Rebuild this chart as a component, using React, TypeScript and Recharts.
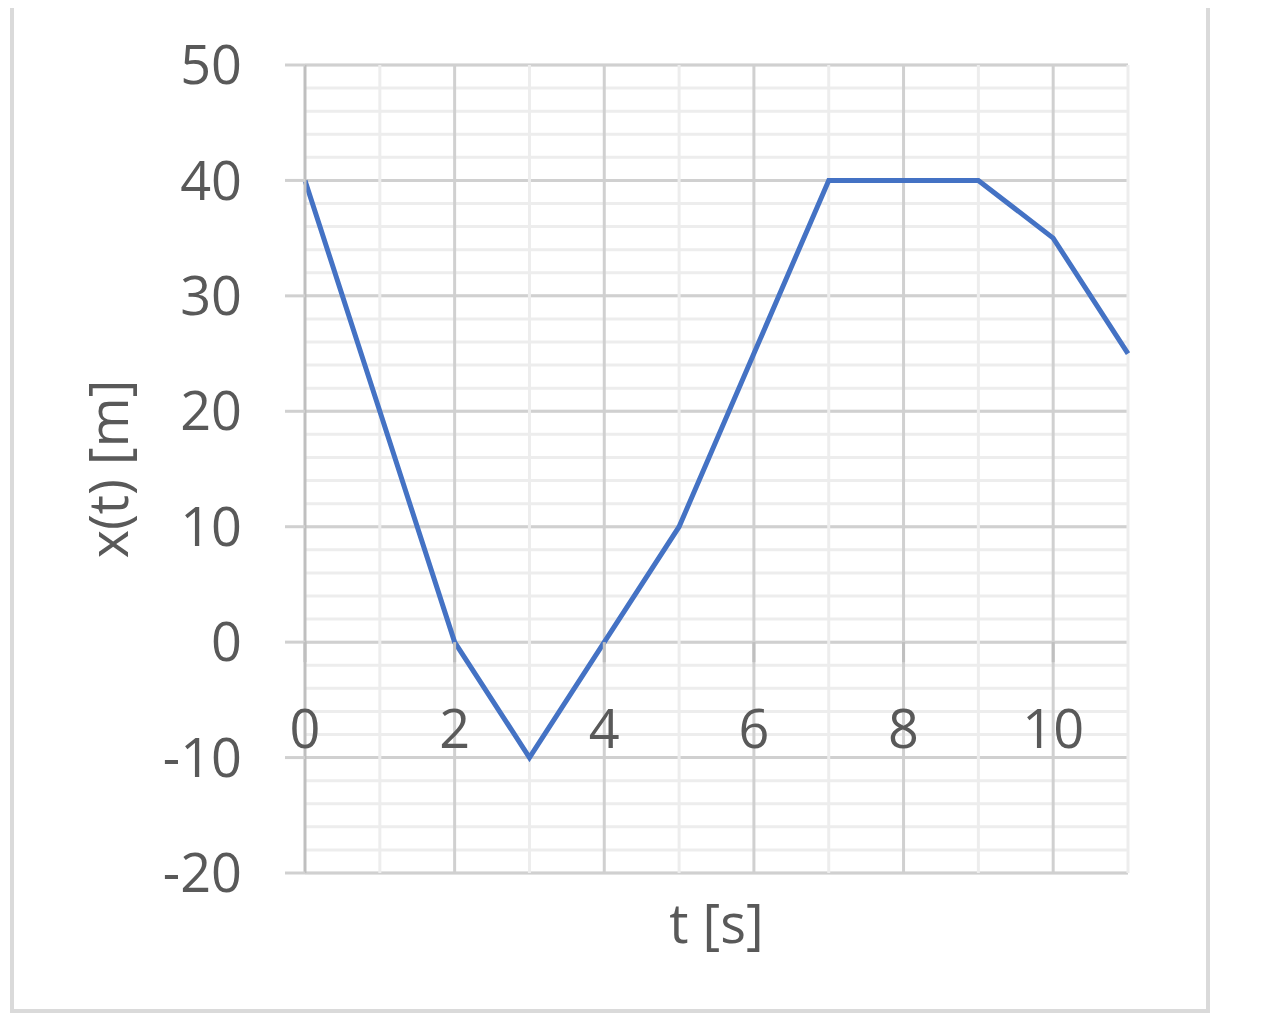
import React from 'react';
import {
  LineChart,
  Line,
  XAxis,
  YAxis,
  CartesianGrid,
  ReferenceDot,
  ReferenceLine,
} from 'recharts';

// time [s] and position [m]
const tValues = [0, 1, 2, 3, 4, 5, 6, 7, 8, 9, 10, 11];
const xValues = [40, 20, 0, -10, 0, 10, 25, 40, 40, 40, 35, 25];

// axis ticks
const yTicks = [-20, -10, 0, 10, 20, 30, 40, 50];
const tTicks = [0, 2, 4, 6, 8, 10];

// gridlines
const tMinorGrid = [1, 3, 5, 7, 9, 11];
const tMajorGrid = [2, 4, 6, 8, 10];
const yMinorGrid = [
  -20, -18, -16, -14, -12, -10, -8, -6, -4, -2, 0, 2, 4, 6, 8, 10, 12, 14, 16,
  18, 20, 22, 24, 26, 28, 30, 32, 34, 36, 38, 40, 42, 44, 46, 48, 50,
];

const FONT = '"Open Sans", "Liberation Sans", sans-serif';
const TEXT = '#595959';
const MAJOR = '#d0d0d0';
const MINOR = '#ededed';
const AXIS = '#bfbfbf';

const data = tValues.map((t, i) => ({ t, x: xValues[i] }));

// tick mark + label hanging under the horizontal axis (which crosses at x = 0)
const AxisTick = (props: any) => {
  const { cx, cy, label } = props;
  return (
    <g>
      <line x1={cx} y1={cy} x2={cx} y2={cy + 20} stroke={AXIS} strokeWidth={3} />
      <text
        x={cx}
        y={cy + 106}
        textAnchor="middle"
        fill={TEXT}
        fontSize={54}
        fontFamily={FONT}
      >
        {label}
      </text>
    </g>
  );
};

export default function App() {
  return (
    <div style={{ position: 'relative', width: 1288, height: 1030, margin: -8, background: '#fff' }}>
      <div
        style={{
          position: 'absolute',
          left: 10,
          top: 4,
          width: 1200,
          height: 1009,
          border: '4px solid #dadada',
          boxSizing: 'border-box',
        }}
      />
      <div style={{ position: 'absolute', left: 0, top: 0 }}>
        <LineChart
          width={1288}
          height={1030}
          data={data}
          margin={{ top: 65, right: 160, bottom: 0, left: 0 }}
          style={{ fontFamily: FONT }}
        >
          <CartesianGrid
            stroke={MINOR}
            strokeWidth={3}
            vertical={false}
            horizontalValues={yMinorGrid}
          />
          {tMinorGrid.map((t) => (
            <ReferenceLine key={`mi${t}`} x={t} stroke={MINOR} strokeWidth={3} />
          ))}
          <CartesianGrid
            stroke={MAJOR}
            strokeWidth={3}
            vertical={false}
            horizontalValues={yTicks}
          />
          {tMajorGrid.map((t) => (
            <ReferenceLine key={`ma${t}`} x={t} stroke={MAJOR} strokeWidth={3} />
          ))}
          <XAxis
            dataKey="t"
            type="number"
            domain={[0, 11]}
            ticks={tTicks}
            tick={false}
            tickLine={false}
            axisLine={false}
            height={157}
            label={{
              content: ({ viewBox }: any) => (
                <text
                  x={viewBox.x + viewBox.width / 2}
                  y={viewBox.y + 70}
                  textAnchor="middle"
                  fill={TEXT}
                  fontSize={54}
                  fontFamily={FONT}
                >
                  t [s]
                </text>
              ),
            }}
          />
          <YAxis
            type="number"
            domain={[-20, 50]}
            ticks={yTicks}
            interval={0}
            width={305}
            axisLine={{ stroke: AXIS, strokeWidth: 3 }}
            tickLine={{ stroke: MAJOR, strokeWidth: 3 }}
            tickSize={20}
            tickMargin={43}
            tick={{ fill: TEXT, fontSize: 54, fontFamily: FONT }}
            label={{
              content: ({ viewBox }: any) => {
                const cx = viewBox.x + 128;
                const cy = viewBox.y + viewBox.height / 2;
                return (
                  <text
                    x={cx}
                    y={cy}
                    transform={`rotate(-90, ${cx}, ${cy})`}
                    textAnchor="middle"
                    fill={TEXT}
                    fontSize={54}
                    fontFamily={FONT}
                  >
                    x(t) [m]
                  </text>
                );
              },
            }}
          />
          {tTicks.map((t) => (
            <ReferenceDot
              key={t}
              x={t}
              y={0}
              r={0}
              shape={(p: any) => <AxisTick {...p} label={String(t)} />}
            />
          ))}
          <Line
            type="linear"
            dataKey="x"
            stroke="#4472C4"
            strokeWidth={5}
            dot={false}
            activeDot={false}
            isAnimationActive={false}
          />
        </LineChart>
      </div>
    </div>
  );
}
